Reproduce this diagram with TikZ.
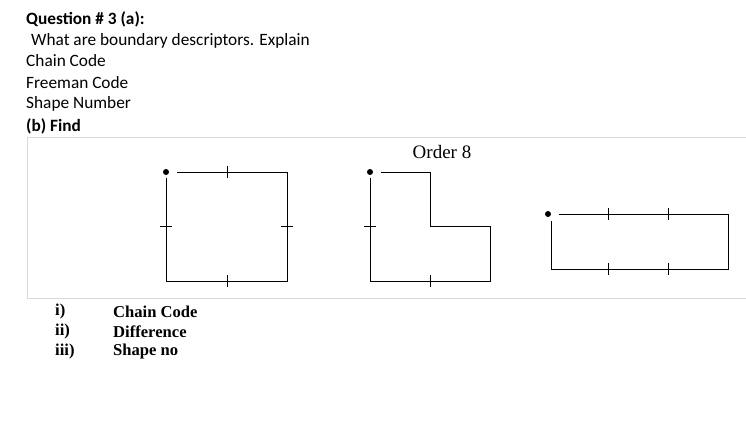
\documentclass[tikz,border=0pt]{standalone}
\usepackage{fontspec}
\setmainfont{Carlito}
\newfontfamily\tms{Liberation Serif}
\begin{document}
\begin{tikzpicture}[x=1pt,y=-1pt,
  txt/.style={anchor=west,inner sep=0pt,font=\fontsize{17.3}{19}\selectfont},
  tt/.style={anchor=west,inner sep=0pt,font=\tms\bfseries\fontsize{16.6}{18}\selectfont},
  shp/.style={line width=0.9pt},
  tk/.style={line width=0.8pt}]
\useasboundingbox (0,0) rectangle (746,427);
\draw[gray!30,line width=0.8pt] (27,137) -- (746,137);
\draw[gray!30,line width=0.8pt] (27,137) -- (27,298) -- (746,298);
\node[txt,font=\bfseries\fontsize{17.3}{19}\selectfont] (q) at (26,19) {Question \# 3 (a):};
\node[txt] (l1) at (31,41) {What are boundary descriptors. Explain};
\node[txt] (l2) at (26,61) {Chain Code};
\node[txt] (l3) at (26,83) {Freeman Code};
\node[txt] (l4) at (26,104) {Shape Number};
\node[txt,font=\bfseries\fontsize{17.3}{19}\selectfont] (l5) at (26,126) {(b) Find};
\node[anchor=center,inner sep=0pt,font=\tms\fontsize{19}{21}\selectfont] (o8) at (442,152) {Order 8};
% shape 1
\fill (166,172) circle (3);
\draw[shp] (177,172) -- (287,172) -- (287,281) -- (166,281) -- (166,178);
\draw[tk] (227,166)--(227,178) (160,226)--(172,226) (281,226)--(293,226) (227,275)--(227,287);
% shape 2
\fill (370,172) circle (3);
\draw[shp] (381,172) -- (430,172) -- (430,226) -- (490,226) -- (490,281) -- (370,281) -- (370,178);
\draw[tk] (364,226)--(376,226) (430,275)--(430,287);
% shape 3
\fill (548,214) circle (3);
\draw[shp] (559,214) -- (728,214) -- (728,269) -- (551,269) -- (551,221);
\draw[tk] (608,208)--(608,220) (668,208)--(668,220) (608,263)--(608,275) (668,263)--(668,275);
\node[tt] (i1) at (55,312) {i)};
\node[tt] (i2) at (55,332) {ii)};
\node[tt] (i3) at (55,352) {iii)};
\node[tt] (c1) at (113,312) {Chain Code};
\node[tt] (c2) at (113,332) {Difference};
\node[tt] (c3) at (113,352) {Shape no};
\end{tikzpicture}
\end{document}
